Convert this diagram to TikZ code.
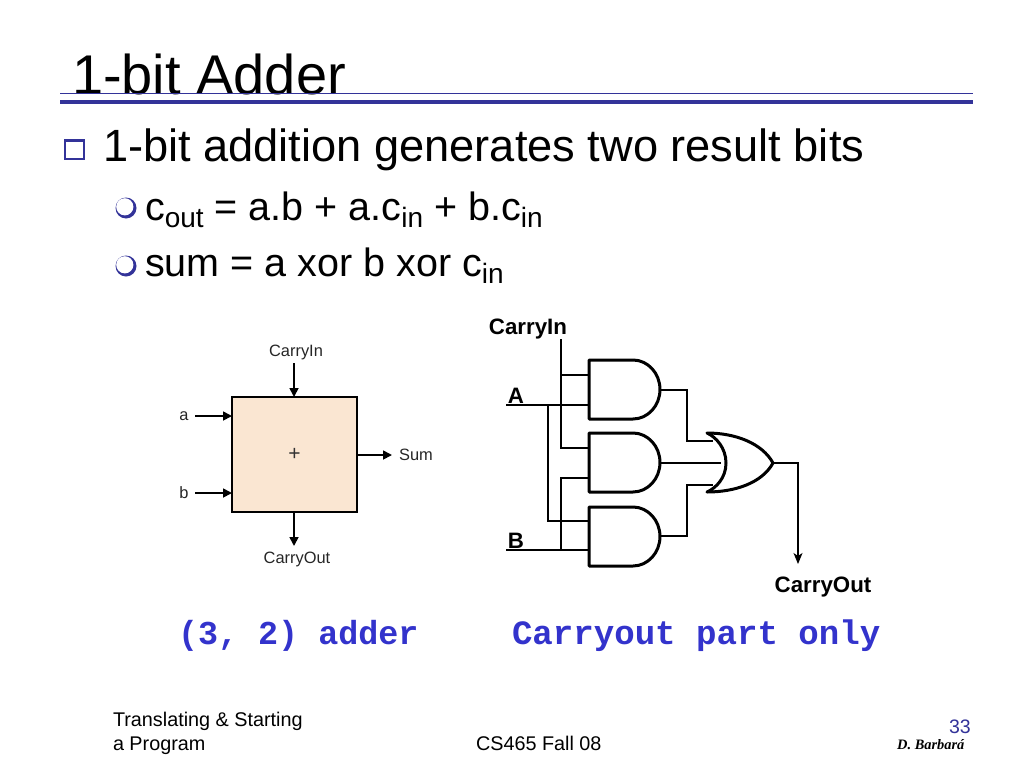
\documentclass[tikz,border=0pt]{standalone}
\usepackage{fontspec}
\setmainfont{Liberation Sans}
\setmonofont{Liberation Mono}
\newfontfamily\seriffam{Liberation Serif}
\usetikzlibrary{arrows.meta,shadings}
\definecolor{navy}{HTML}{333399}
\definecolor{peach}{HTML}{FAE6D2}
\definecolor{codeblue}{HTML}{3333CC}
\newcommand{\fs}[1]{\fontsize{#1}{#1}\selectfont}
\newcommand{\lowtxt}[1]{\raisebox{-7pt}{\fs{28}#1}}
\tikzset{
  x=1pt,y=-1pt,
  txt/.style={inner sep=0pt,outer sep=0pt,anchor=base west,text=black},
  titletxt/.style={txt,font=\fs{56}},
  lvlone/.style={txt,font=\fs{45.2}},
  lvltwo/.style={txt,font=\fs{39.5}},
  foot/.style={txt,font=\fs{19.8}},
  small/.style={inner sep=0pt,outer sep=0pt,anchor=base,font=\fs{16.4},text=black!85},
  bold/.style={inner sep=0pt,outer sep=0pt,anchor=base,font=\fs{22.3}\bfseries,text=black},
  code/.style={inner sep=0pt,outer sep=0pt,anchor=base west,font=\fs{33.4}\ttfamily\bfseries,text=codeblue},
  wire/.style={draw=black,line width=1.3pt},
  gateline/.style={draw=black,line width=3pt,line join=round},
  arr/.style={draw=black,line width=1.7pt,-{Triangle[length=9pt,width=9pt]}},
  blockbox/.style={draw=black,line width=2.2pt,fill=peach,minimum width=125pt,minimum height=115pt,inner sep=0pt,outer sep=0pt},
  pics/andgate/.style={code={
    \path[gateline] (-71,-29.5) -- (-71,29.5) -- (-27,29.5)
      .. controls (-12,29.5) and (0,16) .. (0,0)
      .. controls (0,-16) and (-12,-29.5) .. (-27,-29.5) -- cycle;
  }},
  roundbullet/.pic={
    \fill[navy] (0,0) circle (10.5);
    \fill[white] (-1.2,-1.2) circle (8.6);
  },
}
\begin{document}
\begin{tikzpicture}
\useasboundingbox (0,0) rectangle (1024,768);
\fill[white] (0,0) rectangle (1024,768);

% title and rules
\coordinate (ruleL) at (60,93.5); \coordinate (ruleR) at (973,93.5);
\coordinate (barL) at (60,102); \coordinate (barR) at (973,102);
\node[titletxt] (title) at (72,94) {1-bit Adder};
\draw[navy,line width=0.9pt] (ruleL) -- (ruleR);
\draw[navy,line width=4pt] (barL) -- (barR);

% bullets
\draw[navy,line width=2.2pt] (65,140.5) rectangle (84,159);
\pic at (126,208) {roundbullet};
\pic at (126,266) {roundbullet};
\node[lvlone] (l1) at (103,161) {1-bit addition generates two result bits};
\node[lvltwo] (l2) at (145,220) {c\lowtxt{out} = a.b + a.c\lowtxt{in} + b.c\lowtxt{in}};
\node[lvltwo] (l3) at (145,276) {sum = a xor b xor c\lowtxt{in}};

% block diagram
\node[blockbox] (adder) at (294.5,454.5) {};
\node[font=\fs{21},inner sep=0pt,text=black!80] (plus) at (294.5,454.5) {+};
\node[small] (ci) at (296,356) {CarryIn};
\node[small] (co) at (297,563) {CarryOut};
\node[small] (la) at (184,420) {a};
\node[small] (lb) at (184,498) {b};
\node[small] (ls) at (416,460) {Sum};
\coordinate (ciS) at (294,363);
\coordinate (coE) at (294,546);
\coordinate (aS) at (195,416);
\coordinate (bS) at (195,493);
\coordinate (sE) at (392,455);
\draw[arr] (ciS) -- (adder.north -| ciS);
\draw[arr] (adder.south -| coE) -- (coE);
\draw[arr] (aS) -- (adder.west |- aS);
\draw[arr] (bS) -- (adder.west |- bS);
\draw[arr] (adder.east |- sE) -- (sE);

% gates
\pic at (660,389.5) {andgate};
\pic at (660,462.5) {andgate};
\pic at (660,536.5) {andgate};
\coordinate (g1o) at (660,390);
\coordinate (g2o) at (660,463);
\coordinate (g3o) at (660,536);
\path[gateline] (707,433)
   .. controls (716,437) and (726,448) .. (726,463)
   .. controls (726,478) and (716,488) .. (707,492)
   .. controls (735,492) and (762,483) .. (773,463)
   .. controls (762,443) and (735,433) .. (707,433) -- cycle;
\coordinate (oro) at (773,463);
\coordinate (or1) at (713,441);
\coordinate (or2) at (721,463);
\coordinate (or3) at (713,485);

% wires
\coordinate (ciT) at (561,339);
\coordinate (i1a) at (589,375);
\coordinate (i1b) at (589,405);
\coordinate (i2a) at (589,448);
\coordinate (i2b) at (589,478);
\coordinate (i3a) at (589,521);
\coordinate (i3b) at (589,550);
\coordinate (aL) at (506,405);
\coordinate (bL) at (506,550);
\coordinate (aT) at (548,405);
\coordinate (bT) at (561,550);
\draw[wire] (ciT) |- (i2a);
\draw[wire] (ciT |- i1a) -- (i1a);
\draw[wire] (aL) -- (i1b);
\draw[wire] (aT) |- (i3a);
\draw[wire] (bL) -- (i3b);
\draw[wire] (bT) |- (i2b);
\draw[wire] (g1o) -| (687,441) -- (or1);
\draw[wire] (g2o) -- (or2);
\draw[wire] (g3o) -| (687,485) -- (or3);
\coordinate (outE) at (798,564);
\draw[wire,-{Stealth[length=11pt,width=9pt,inset=3pt]}] (oro) -| (outE);

\node[bold] (tci) at (528,334) {CarryIn};
\node[bold] (ta) at (516,403) {A};
\node[bold] (tb) at (516,548) {B};
\node[bold] (tco) at (823,592) {CarryOut};

% captions
\node[code] (c1) at (178,644) {(3, 2) adder};
\node[code,font=\fs{34.1}\ttfamily\bfseries] (c2) at (512,644) {Carryout part only};

% footer
\node[foot] (f1) at (113,726) {Translating \& Starting};
\node[foot] (f2) at (113,750) {a Program};
\node[foot] (f3) at (476,750) {CS465 Fall 08};
\node[inner sep=0pt,anchor=base east,font=\fs{19.5},text=navy] (pg) at (971,733) {33};
\node[inner sep=0pt,anchor=base west,font=\fs{14.4}\seriffam\itshape\bfseries,text=black] (auth) at (897,749) {D. Barbará};
\end{tikzpicture}
\end{document}
